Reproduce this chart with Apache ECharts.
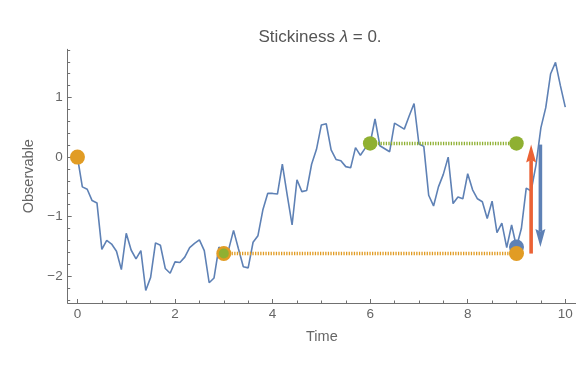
<!DOCTYPE html>
<html><head><meta charset="utf-8">
<script src="https://cdn.jsdelivr.net/npm/echarts@6/dist/echarts.min.js"></script>
<style>html,body{margin:0;padding:0;background:#fff}#c{width:576px;height:370px}</style>
</head><body><div id="c"></div>
<script>
// ---- data ----
const times = [0,0.1,0.2,0.3,0.4,0.5,0.6,0.7,0.8,0.9,1,1.1,1.2,1.3,1.4,1.5,1.6,1.7,1.8,1.9,2,2.1,2.2,2.3,2.4,2.5,2.6,2.7,2.8,2.9,3,3.1,3.2,3.3,3.4,3.5,3.6,3.7,3.8,3.9,4,4.1,4.2,4.3,4.4,4.5,4.6,4.7,4.8,4.9,5,5.1,5.2,5.3,5.4,5.5,5.6,5.7,5.8,5.9,6,6.1,6.2,6.3,6.4,6.5,6.6,6.7,6.8,6.9,7,7.1,7.2,7.3,7.4,7.5,7.6,7.7,7.8,7.9,8,8.1,8.2,8.3,8.4,8.5,8.6,8.7,8.8,8.9,9,9.1,9.2,9.3,9.4,9.5,9.6,9.7,9.8,9.9,10];
const observable = [0,-0.50,-0.54,-0.73,-0.77,-1.55,-1.40,-1.46,-1.58,-1.89,
  -1.28,-1.56,-1.71,-1.57,-2.24,-2.02,-1.44,-1.48,-1.87,-1.95,
  -1.76,-1.77,-1.68,-1.52,-1.45,-1.39,-1.57,-2.11,-2.03,-1.51,
  -1.62,-1.55,-1.23,-1.54,-1.84,-1.86,-1.43,-1.32,-0.89,-0.61,
  -0.61,-0.62,-0.12,-0.64,-1.14,-0.38,-0.58,-0.56,-0.12,0.13,
  0.54,0.56,0.12,-0.04,-0.06,-0.16,-0.18,0.16,0.03,0.15,
  0.23,0.64,0.19,0.14,0.09,0.57,0.52,0.47,0.69,0.90,
  0.22,0.18,-0.64,-0.82,-0.50,-0.29,0.00,-0.78,-0.67,-0.70,
  -0.28,-0.55,-0.70,-0.75,-1.03,-0.74,-1.27,-1.11,-1.52,-1.14,
  -1.51,-1.20,-0.52,-0.57,-0.13,0.49,0.83,1.40,1.59,1.20,0.84];
const xTickLabels = [0,2,4,6,8,10];
const xMinorTicks = [0.5,1,1.5,2,2.5,3,3.5,4,4.5,5,5.5,6,6.5,7,7.5,8,8.5,9,9.5,10];
const yTickLabels = [-2,-1,0,1];
const yMinorTicks = [-2.4,-2.2,-2,-1.8,-1.6,-1.4,-1.2,-1,-0.8,-0.6,-0.4,-0.2,0,0.2,0.4,0.6,0.8,1,1.2,1.4,1.6,1.8];
const orangeLevel = [[3,-1.62],[9,-1.62]];
const greenLevel = [[6,0.23],[9,0.23]];
const orangeDots = [[0,0],[3,-1.62],[9,-1.62]];
const greenDots = [[6,0.23],[9,0.23]];
const greenInnerDots = [[3,-1.62]];
const blueDots = [[9,-1.51]];
const arrowX = [9.3, 9.49];
const arrowFrom = [-1.62, 0.21];
const arrowTo = [0.21, -1.51];

// ---- styles ----
const BLUE = '#5E81B5', ORANGE = '#E19C24', GREEN = '#8FB032', RED = '#EB6235';
const arrowColors = [RED, BLUE];
const AXIS = '#707070', TXT = '#666666';
const FONT = '"Liberation Sans", Arial, sans-serif';
const XMIN = -0.2, XMAX = 10.22, YMIN = -2.45, YMAX = 1.81;
const gridBox = {left: 67.7, right: 0, top: 49.3, bottom: 67};
const fmt = v => (v < 0 ? '\u2212' + Math.abs(v) : String(v));

const chart = echarts.init(document.getElementById('c'), null, {renderer: 'canvas'});
chart.setOption({
  animation: false,
  backgroundColor: '#fff',
  title: {
    text: 'Stickiness {i|\u03bb} = 0.',
    left: 320, top: 27, textAlign: 'center', padding: 0,
    textStyle: {fontFamily: FONT, fontSize: 17, fontWeight: 'normal', color: '#555', lineHeight: 20,
      rich: {i: {fontFamily: FONT, fontSize: 17, fontStyle: 'italic', color: '#555', lineHeight: 20}}}
  },
  grid: [Object.assign({}, gridBox), Object.assign({}, gridBox)],
  xAxis: [{
    type: 'value', gridIndex: 0, min: XMIN, max: XMAX,
    name: 'Time', nameLocation: 'middle', nameGap: 26,
    nameTextStyle: {fontFamily: FONT, fontSize: 14.5, color: TXT},
    axisLine: {show: true, onZero: false, lineStyle: {color: AXIS, width: 1}},
    axisTick: {show: true, inside: true, length: 4, customValues: xTickLabels, lineStyle: {color: AXIS}},
    axisLabel: {show: true, customValues: xTickLabels, formatter: fmt, margin: 4,
      fontFamily: FONT, fontSize: 13.5, color: TXT},
    splitLine: {show: false}
  }, {
    type: 'value', gridIndex: 1, min: XMIN, max: XMAX,
    axisLine: {show: false, onZero: false},
    axisTick: {show: true, inside: true, length: 2.5, customValues: xMinorTicks, lineStyle: {color: AXIS}},
    axisLabel: {show: false},
    splitLine: {show: false}
  }],
  yAxis: [{
    type: 'value', gridIndex: 0, min: YMIN, max: YMAX,
    name: 'Observable', nameLocation: 'middle', nameGap: 28, nameRotate: 90,
    nameTextStyle: {fontFamily: FONT, fontSize: 14.5, color: TXT},
    axisLine: {show: true, onZero: false, lineStyle: {color: AXIS, width: 1}},
    axisTick: {show: true, inside: true, length: 4, customValues: yTickLabels, lineStyle: {color: AXIS}},
    axisLabel: {show: true, customValues: yTickLabels, formatter: fmt, margin: 5,
      fontFamily: FONT, fontSize: 13.5, color: TXT},
    splitLine: {show: false}
  }, {
    type: 'value', gridIndex: 1, min: YMIN, max: YMAX,
    axisLine: {show: false, onZero: false},
    axisTick: {show: true, inside: true, length: 2.5, customValues: yMinorTicks, lineStyle: {color: AXIS}},
    axisLabel: {show: false},
    splitLine: {show: false}
  }],
  series: [
    {type: 'line', xAxisIndex: 0, yAxisIndex: 0, data: times.map((t, i) => [t, observable[i]]),
      showSymbol: false, lineStyle: {color: BLUE, width: 1.6}, z: 2},
    {type: 'line', data: orangeLevel, showSymbol: false,
      lineStyle: {color: ORANGE, width: 3.5, type: [1.3, 1.3]}, z: 3},
    {type: 'line', data: greenLevel, showSymbol: false,
      lineStyle: {color: GREEN, width: 3.5, type: [1.3, 1.3]}, z: 3},
    {type: 'scatter', data: blueDots, symbolSize: 15, itemStyle: {color: BLUE, opacity: 1}, z: 4},
    {type: 'scatter', data: orangeDots, symbolSize: 15, itemStyle: {color: ORANGE, opacity: 1}, z: 5},
    {type: 'scatter', data: greenDots, symbolSize: 14.5, itemStyle: {color: GREEN, opacity: 1}, z: 5},
    {type: 'scatter', data: greenInnerDots, symbolSize: 10, itemStyle: {color: GREEN, opacity: 1}, z: 6},
    {type: 'custom', coordinateSystem: 'cartesian2d', xAxisIndex: 0, yAxisIndex: 0, z: 7,
      data: arrowX.map((x, i) => [x, arrowFrom[i], arrowTo[i], i]),
      encode: {x: 0, y: [1, 2]},
      renderItem: function (params, api) {
        const x = api.value(0), y0 = api.value(1), y1 = api.value(2), idx = api.value(3);
        const p0 = api.coord([x, y0]), p1 = api.coord([x, y1]);
        const dir = Math.sign(p1[1] - p0[1]);
        const headLen = 18, headW = 5, notch = 2.5;
        const baseY = p1[1] - dir * headLen;
        const color = arrowColors[idx];
        return {type: 'group', children: [
          {type: 'line', shape: {x1: p0[0], y1: p0[1], x2: p1[0], y2: baseY + dir * notch},
            style: {stroke: color, lineWidth: 3.6}},
          {type: 'polygon', shape: {points: [[p1[0], p1[1]], [p1[0] - headW, baseY], [p1[0], baseY + dir * notch], [p1[0] + headW, baseY]]},
            style: {fill: color}}
        ]};
      }}
  ]
});
</script>
</body></html>
